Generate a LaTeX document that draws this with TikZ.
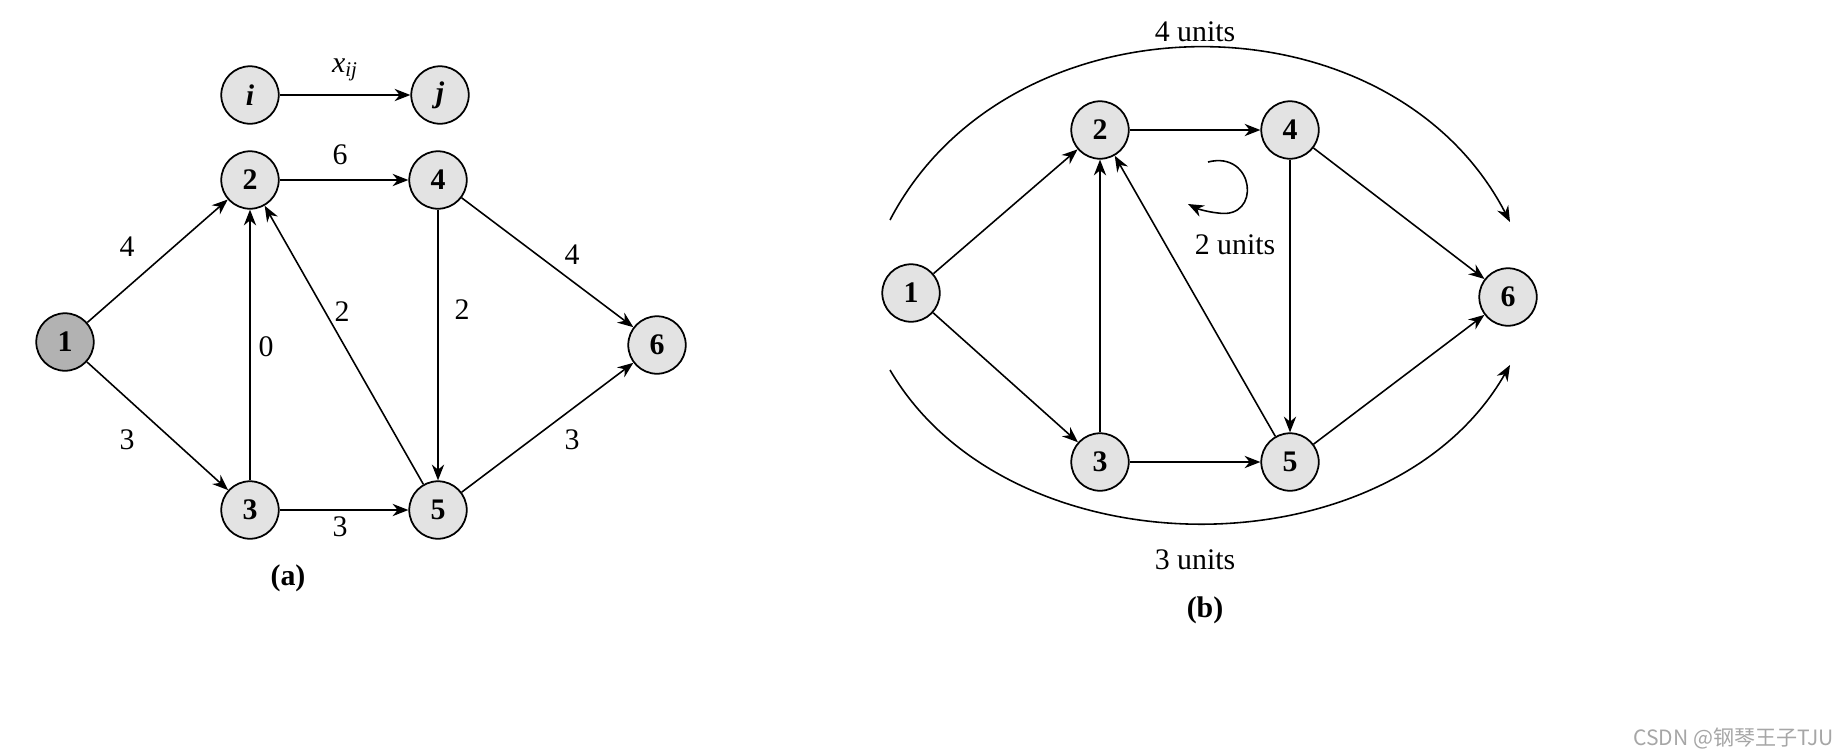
\documentclass[tikz,border=0pt]{standalone}
\usepackage{fontspec}
\setmainfont{Liberation Serif}
\newfontfamily\cjk{Noto Sans CJK SC}
\usetikzlibrary{arrows.meta}
\begin{document}
\begin{tikzpicture}[x=0.02cm,y=-0.02cm,
  nd/.style={circle,draw,line width=1pt,fill=gray!22,minimum size=1.15cm,inner sep=0pt,font=\fontsize{17}{17}\selectfont\bfseries},
  ed/.style={line width=0.9pt,-{Stealth[length=9pt,width=7pt]}},
  lb/.style={font=\fontsize{17}{17}\selectfont}]
\useasboundingbox (0,0) rectangle (1848,754);
% panel (a)
\node[nd] (i) at (250,95) {\textit{i}};
\node[nd] (j) at (440,95) {\textit{j}};
\draw[ed] (i) -- node[lb,above=4pt]{\textit{x}\textsubscript{\textit{ij}}} (j);
\node[nd,fill=gray!60] (a1) at (65,342) {1};
\node[nd] (a2) at (250,180) {2};
\node[nd] (a4) at (438,180) {4};
\node[nd] (a3) at (250,510) {3};
\node[nd] (a5) at (438,510) {5};
\node[nd] (a6) at (657,345) {6};
\draw[ed] (a1) -- (a2); \node[lb] (l1) at (127,247) {4};
\draw[ed] (a1) -- (a3); \node[lb] (l2) at (127,440) {3};
\draw[ed] (a2) -- (a4); \node[lb] (l3) at (340,155) {6};
\draw[ed] (a3) -- (a2); \node[lb] (l4) at (266,347) {0};
\draw[ed] (a5) -- (a2); \node[lb] (l5) at (342,312) {2};
\draw[ed] (a4) -- (a5); \node[lb] (l6) at (462,310) {2};
\draw[ed] (a4) -- (a6); \node[lb] (l7) at (572,255) {4};
\draw[ed] (a5) -- (a6); \node[lb] (l8) at (572,440) {3};
\draw[ed] (a3) -- (a5); \node[lb] (l9) at (340,527) {3};
\node[lb,font=\fontsize{17}{17}\selectfont\bfseries] (ca) at (288,578) {(a)};
% panel (b)
\node[nd] (b1) at (911,293) {1};
\node[nd] (b2) at (1100,130) {2};
\node[nd] (b4) at (1290,130) {4};
\node[nd] (b3) at (1100,462) {3};
\node[nd] (b5) at (1290,462) {5};
\node[nd] (b6) at (1508,297) {6};
\draw[ed] (b1) -- (b2);
\draw[ed] (b1) -- (b3);
\draw[ed] (b2) -- (b4);
\draw[ed] (b3) -- (b2);
\draw[ed] (b5) -- (b2);
\draw[ed] (b4) -- (b5);
\draw[ed] (b4) -- (b6);
\draw[ed] (b3) -- (b5);
\draw[ed] (b5) -- (b6);
\coordinate (ts) at (890,220);
\coordinate (te) at (1510,222);
\coordinate (bs) at (890,370);
\coordinate (be) at (1510,365);
\draw[ed] (ts) .. controls (1010,-10) and (1390,-10) .. (te);
\draw[ed] (bs) .. controls (1010,575) and (1390,575) .. (be);
\node[lb] (u4) at (1195,32) {4 units};
\node[lb] (u3) at (1195,560) {3 units};
\node[lb] (u2) at (1235,245) {2 units};
\coordinate (cs) at (1208,162);
\coordinate (ce) at (1188,204);
\draw[ed] (cs) .. controls (1255,150) and (1262,220) .. (1218,213) .. controls (1208,212) and (1198,209) .. (ce);
\node[lb,font=\fontsize{17}{17}\selectfont\bfseries] (cb) at (1205,610) {(b)};
\node[text=gray!70,anchor=east,font=\fontsize{12}{12}\selectfont\cjk] (wm) at (1840,738) {CSDN @钢琴王子TJU};
\end{tikzpicture}
\end{document}
